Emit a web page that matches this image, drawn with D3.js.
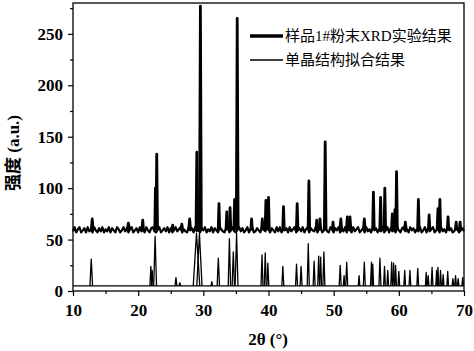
<!DOCTYPE html>
<html>
<head>
<meta charset="utf-8">
<script src="https://cdn.jsdelivr.net/npm/d3@7"></script>
<style>
  body { margin: 0; background: #fff; }
  svg { display: block; }
  .axis path { display: none; }
  .axis line { stroke: #000; stroke-width: 1.2; }
  .axis text { font-family: "Liberation Serif", "Times New Roman", serif; font-weight: bold; font-size: 17px; fill: #000; }
</style>
</head>
<body>
<div id="graphic"></div>
<script>
// ---- data ----
const xTicks = [10, 20, 30, 40, 50, 60, 70];
const yTicks = [0, 50, 100, 150, 200, 250];
const seriesNames = ['样品1#粉末XRD实验结果', '单晶结构拟合结果'];

// experimental pattern: background noise sampled every 0.25 deg from 10 to 70
const expNoiseStart = 10, expNoiseStep = 0.25;
const expNoise = [
  58,62,57,60,62,57,59,61,57,62,58,60,57,62,59,57,61,58,62,57,
  60,58,62,57,61,59,57,62,60,57,59,62,58,61,57,60,62,57,59,61,
  57,62,58,60,57,62,59,57,61,62,58,57,60,62,57,59,61,58,62,57,
  61,57,59,62,58,60,62,57,60,58,57,62,59,61,57,62,58,60,57,61,
  59,62,57,60,58,62,57,61,59,57,62,60,58,57,61,62,57,59,62,58,
  57,60,62,58,61,57,59,62,57,60,62,57,58,61,59,57,62,60,58,62,
  60,57,61,59,57,62,58,62,57,60,59,61,57,62,58,60,62,57,59,61,
  58,62,57,60,62,57,61,59,58,62,57,60,62,57,59,61,58,57,62,60,
  57,61,59,62,57,60,58,62,57,61,59,57,62,58,60,62,57,59,61,57,
  62,58,60,57,62,59,61,57,60,58,62,57,59,62,57,61,58,60,57,62,
  59,57,61,62,58,60,57,62,59,61,57,60,58,62,57,59,62,57,61,58,
  60,62,57,59,61,57,62,58,60,57,62,59,61,57,58,62,60,57,59,61,
  58
];
const expBase = 59;
// experimental peaks: [2theta, intensity, half width]
const expPeaks = [
  [12.95, 70, 0.15], [18.5, 66, 0.2], [20.7, 69, 0.12], [22.65, 100, 0.1], [22.85, 133, 0.12],
  [25.3, 64, 0.15], [26.7, 65, 0.15], [27.9, 70, 0.15], [29.0, 135, 0.12], [29.55, 277, 0.14],
  [32.4, 85, 0.12], [33.6, 77, 0.12], [34.1, 81, 0.12], [34.8, 89, 0.12], [35.2, 265, 0.14],
  [37.4, 70, 0.12], [39.05, 70, 0.12], [39.6, 88, 0.12], [40.0, 91, 0.12], [42.3, 82, 0.12],
  [44.4, 85, 0.12], [46.2, 107, 0.12], [47.4, 69, 0.12], [47.9, 70, 0.12], [48.7, 145, 0.13],
  [49.9, 67, 0.12], [51.1, 70, 0.15], [52.1, 72, 0.15], [52.5, 72, 0.15], [54.7, 70, 0.15],
  [56.1, 96, 0.12], [57.2, 91, 0.12], [57.85, 100, 0.12], [59.0, 75, 0.12], [59.4, 79, 0.12],
  [59.65, 116, 0.12], [61.0, 67, 0.15], [63.0, 89, 0.12], [64.65, 74, 0.12], [66.0, 80, 0.12],
  [66.3, 89, 0.12], [67.55, 72, 0.12], [68.8, 67, 0.12], [69.4, 67, 0.12]
];

// simulated (single crystal) pattern
const simBase = 5;
const simPeaks = [
  [12.8, 31, 0.2], [21.95, 24, 0.15], [22.15, 20, 0.15], [22.6, 53, 0.22], [25.8, 13, 0.15],
  [26.4, 8, 0.12], [28.95, 56, 0.5], [29.4, 56, 0.4], [31.3, 9, 0.12], [32.3, 32, 0.18],
  [34.0, 51, 0.18], [34.6, 38, 0.18], [35.1, 56, 0.22], [39.0, 35, 0.15], [39.5, 37, 0.15],
  [39.9, 27, 0.15], [42.2, 24, 0.15], [44.3, 26, 0.15], [45.0, 24, 0.15], [46.1, 46, 0.16],
  [47.0, 29, 0.15], [47.7, 34, 0.15], [48.0, 33, 0.15], [48.5, 38, 0.15], [51.0, 25, 0.15],
  [51.6, 15, 0.12], [52.0, 28, 0.15], [53.9, 15, 0.12], [54.7, 28, 0.15], [55.8, 28, 0.15],
  [56.0, 26, 0.12], [57.1, 32, 0.15], [57.8, 24, 0.13], [58.3, 20, 0.13], [58.9, 28, 0.13],
  [59.2, 27, 0.13], [59.5, 25, 0.13], [60.0, 19, 0.13], [60.9, 20, 0.13], [61.7, 20, 0.13],
  [62.9, 22, 0.13], [64.2, 18, 0.12], [64.5, 15, 0.12], [65.1, 23, 0.13], [65.8, 20, 0.12],
  [66.0, 23, 0.12], [66.4, 20, 0.12], [66.8, 16, 0.12], [67.5, 19, 0.12], [68.3, 12, 0.12],
  [68.7, 15, 0.12], [69.1, 12, 0.12], [69.8, 13, 0.12]
];

// ---- layout ----
const width = 474, height = 351;
const margin = { top: 3, right: 10, bottom: 60, left: 73 };
const chartWidth = width - margin.left - margin.right;
const chartHeight = height - margin.top - margin.bottom;

const svgRoot = d3.select('#graphic').append('svg')
  .attr('width', width)
  .attr('height', height);
const svg = svgRoot.append('g')
  .attr('transform', `translate(${margin.left},${margin.top})`);

const x = d3.scaleLinear().domain([10, 70]).range([0, chartWidth]);
const y = d3.scaleLinear().domain([0, 280]).range([chartHeight, 0]);

const line = d3.line().x(d => x(d[0])).y(d => y(d[1]));

function peakPoints(p, base) {
  return [[p[0] - p[2], base], [p[0], p[1]], [p[0] + p[2], base]];
}

// simulated pattern: baseline and peaks
svg.append('path')
  .datum([[10, simBase], [70, simBase]])
  .attr('fill', 'none').attr('stroke', '#000').attr('stroke-width', 1.3)
  .attr('d', line);
svg.selectAll('path.sim')
  .data(simPeaks)
  .join('path')
  .attr('class', 'sim')
  .attr('fill', 'none').attr('stroke', '#000').attr('stroke-width', 1.3)
  .attr('stroke-linejoin', 'round')
  .attr('d', d => line(peakPoints(d, simBase)));

// experimental pattern: noise and peaks
const noisePts = expNoise.map((v, i) => [expNoiseStart + i * expNoiseStep, v]);
svg.append('path')
  .datum(noisePts)
  .attr('fill', 'none').attr('stroke', '#000').attr('stroke-width', 2.2)
  .attr('stroke-linejoin', 'round')
  .attr('d', line);
svg.selectAll('path.exp')
  .data(expPeaks)
  .join('path')
  .attr('class', 'exp')
  .attr('fill', 'none').attr('stroke', '#000').attr('stroke-width', 2.8)
  .attr('stroke-linejoin', 'round')
  .attr('d', d => line(peakPoints(d, expBase)));

// frame
svg.append('rect')
  .attr('x', 0).attr('y', 0)
  .attr('width', chartWidth).attr('height', chartHeight)
  .attr('fill', 'none').attr('stroke', '#000').attr('stroke-width', 1.3);

// axes: major and minor ticks
const xMinor = d3.range(15, 70, 10);
const yMinor = d3.range(25, 280, 50);

svg.append('g').attr('class', 'x axis')
  .attr('transform', `translate(0,${chartHeight})`)
  .call(d3.axisBottom(x).tickValues(xTicks).tickSize(5).tickPadding(8).tickFormat(d3.format('d')));
svg.append('g').attr('class', 'x axis minor')
  .attr('transform', `translate(0,${chartHeight})`)
  .call(d3.axisBottom(x).tickValues(xMinor).tickSize(3).tickFormat(''));

svg.append('g').attr('class', 'y axis')
  .call(d3.axisLeft(y).tickValues(yTicks).tickSize(5).tickPadding(5).tickFormat(d3.format('d')));
svg.append('g').attr('class', 'y axis minor')
  .call(d3.axisLeft(y).tickValues(yMinor).tickSize(3).tickFormat(''));

// axis titles
svgRoot.append('text')
  .attr('x', 268).attr('y', 345)
  .attr('text-anchor', 'middle')
  .style('font-family', '"Liberation Serif", serif')
  .style('font-weight', 'bold')
  .style('font-size', '17px')
  .text('2θ (°)');

svgRoot.append('text')
  .attr('transform', 'translate(19,153) rotate(-90)')
  .attr('text-anchor', 'middle')
  .style('font-family', '"Liberation Serif", "Noto Sans CJK SC", serif')
  .style('font-weight', 'bold')
  .style('font-size', '17px')
  .text('强度 (a.u.)');

// legend
const legend = svgRoot.append('g').attr('class', 'legend');
seriesNames.forEach((name, i) => {
  const ly = 36 + i * 24;
  legend.append('line')
    .attr('x1', 250).attr('x2', 283)
    .attr('y1', ly).attr('y2', ly)
    .attr('stroke', '#000')
    .attr('stroke-width', i === 0 ? 3.5 : 1.3);
  legend.append('text')
    .attr('x', 285).attr('y', ly)
    .attr('dy', '0.35em')
    .style('font-family', '"Liberation Serif", "Noto Sans CJK SC", serif')
    .style('font-size', '15px')
    .text(name);
});
</script>
</body>
</html>
